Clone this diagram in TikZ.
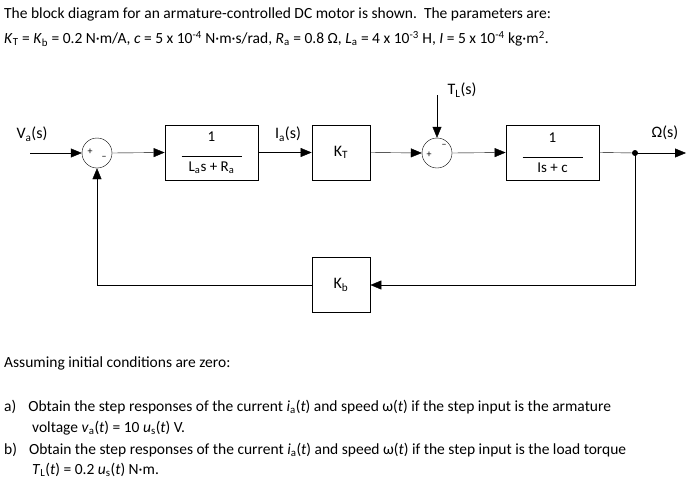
\documentclass[tikz,border=0pt]{standalone}
\usepackage{fontspec}
\setmainfont{Carlito}
\usetikzlibrary{arrows.meta}
\newcommand{\sbs}[1]{\textsubscript{#1}}
\newcommand{\sps}[1]{\textsuperscript{#1}}
\begin{document}
\begin{tikzpicture}[x=1pt,y=-1pt,
  blk/.style={draw,thick,minimum width=93pt,minimum height=55pt,inner sep=0pt,font=\fontsize{15}{17}\selectfont},
  sblk/.style={draw,thick,minimum width=58pt,minimum height=55pt,inner sep=0pt,font=\fontsize{16}{18}\selectfont},
  sumc/.style={draw,circle,minimum size=30pt,inner sep=0pt},
  sig/.style={-{Triangle[length=11pt,width=9pt]}},
  lbl/.style={font=\fontsize{16}{18}\selectfont},
  sgn/.style={font=\fontsize{10}{10}\selectfont,inner sep=0pt},
  txt/.style={anchor=west,inner sep=0pt,font=\fontsize{15.5}{18}\selectfont}]
\useasboundingbox (0,0) rectangle (691,490);
\node[txt] (t1) at (4,14) {The block diagram for an armature-controlled DC motor is shown.\ \ The parameters are:};
\node[txt] (t2) at (4,39) {\textit{K}\sbs{T} = \textit{K}\sbs{b} = 0.2 N·m/A, \textit{c} = 5 x 10\sps{-4} N·m·s/rad, \textit{R}\sbs{a} = 0.8 Ω, \textit{L}\sbs{a} = 4 x 10\sps{-3} H, \textit{I} = 5 x 10\sps{-4} kg·m\sps{2}.};
\node[sumc] (s1) at (97,153) {};
\node[sgn] (p1) at (90,152) {+};
\node[sgn] (m1) at (104,158) {–};
\node[blk,align=center] (g1) at (211.5,152.5) {1\\[-2pt]\rule{60pt}{0.6pt}\\[-2pt]L\sbs{a}s + R\sbs{a}};
\node[sblk] (kt) at (341,152.5) {K\sbs{T}};
\node[sumc] (s2) at (437,153) {};
\node[sgn] (p2) at (429,155) {+};
\node[sgn] (m2) at (444,146) {–};
\node[blk,align=center] (g3) at (552.5,152.5) {1\\[-2pt]\rule{60pt}{0.6pt}\\[-2pt]Is + c};
\node[sblk] (kb) at (341,285) {K\sbs{b}};
\coordinate (vin) at (30,153);
\coordinate (tl) at (437,95);
\coordinate (dot) at (635,153);
\coordinate (out) at (686,153);
\coordinate (c1) at (635,285);
\coordinate (c2) at (97,285);
\fill (dot) circle (3pt);
\draw[sig] (vin) -- (s1.west);
\draw[sig] (s1.east) -- (g1.west);
\draw[sig] (g1.east) -- (kt.west);
\draw[sig] (kt.east) -- (s2.west);
\draw[sig] (tl) -- (s2.north);
\draw[sig] (s2.east) -- (g3.west);
\draw (g3.east) -- (dot);
\draw[sig] (dot) -- (out);
\draw[sig] (dot) -- (c1) -- (kb.east);
\draw[sig] (kb.west) -- (c2) -- (s1.south);
\node[lbl] (l1) at (32,134) {V\sbs{a}(s)};
\node[lbl] (l2) at (288,134) {I\sbs{a}(s)};
\node[lbl] (l3) at (462,90) {T\sbs{L}(s)};
\node[lbl] (l4) at (665,133) {Ω(s)};
\node[txt] (t3) at (4,363) {Assuming initial conditions are zero:};
\node[txt] (a1) at (4,407) {a)\hspace{12pt}Obtain the step responses of the current \textit{i}\sbs{a}(\textit{t}) and speed ω(\textit{t}) if the step input is the armature};
\node[txt] (a2) at (32,428) {voltage \textit{v}\sbs{a}(\textit{t}) = 10 \textit{u}\sbs{s}(\textit{t}) V.};
\node[txt] (b1) at (4,450) {b)\hspace{12pt}Obtain the step responses of the current \textit{i}\sbs{a}(\textit{t}) and speed ω(\textit{t}) if the step input is the load torque};
\node[txt] (b2) at (32,470) {\textit{T}\sbs{L}(\textit{t}) = 0.2 \textit{u}\sbs{s}(\textit{t}) N·m.};
\end{tikzpicture}
\end{document}
